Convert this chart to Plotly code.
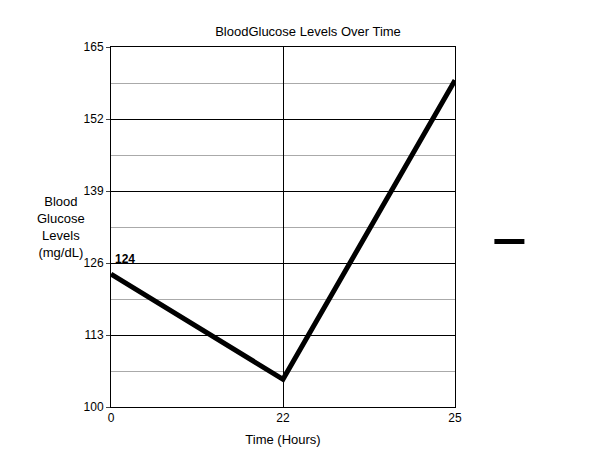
import plotly.graph_objects as go

hours = ["0", "22", "25"]
glucose = [124, 105, 159]
labels = ["124", "105", "159"]
label_xshift = [14, 0, -14]
y_ticks = [100, 113, 126, 139, 152, 165]

fig = go.Figure()
fig.add_trace(go.Scatter(
    x=hours, y=glucose, mode="lines", name=" ",
    line=dict(color="black", width=5),
    showlegend=True, cliponaxis=False,
))
for h, g, t, dx in zip(hours, glucose, labels, label_xshift):
    fig.add_annotation(x=h, y=g, text="<b>" + t + "</b>", showarrow=False,
                       xshift=dx, yshift=15, font=dict(size=12, family="Arial"))
fig.update_layout(
    width=600, height=463,
    margin=dict(l=103, r=153, t=39, b=64),
    plot_bgcolor="white", paper_bgcolor="white",
    font=dict(family="Arial", size=12, color="black"),
    title=dict(text="BloodGlucose Levels Over Time", x=0.5, xanchor="center", y=0.96, font=dict(size=13)),
    showlegend=True,
    legend=dict(x=1.1, y=0.46, xanchor="left", yanchor="middle", font=dict(size=1)),
    xaxis=dict(type="category", range=[0, 2], showline=True, linecolor="black", mirror=True,
               showgrid=True, gridcolor="black", gridwidth=1, ticks="", zeroline=False,
               title=dict(text="Time (Hours)", standoff=10, font=dict(size=13))),
    yaxis=dict(range=[100, 165], tickvals=y_ticks, showline=True, linecolor="black", mirror=True,
               showgrid=True, gridcolor="black", gridwidth=1, ticks="outside", ticklen=4, zeroline=False,
               minor=dict(dtick=6.5, tick0=100, showgrid=True, gridcolor="#aaaaaa", gridwidth=1)),
)
fig.add_annotation(text="Blood<br>Glucose<br>Levels<br>(mg/dL)", xref="paper", yref="paper",
                   x=-0.22, y=0.5, showarrow=False, align="center", font=dict(size=13))
fig.write_html("out.html")
